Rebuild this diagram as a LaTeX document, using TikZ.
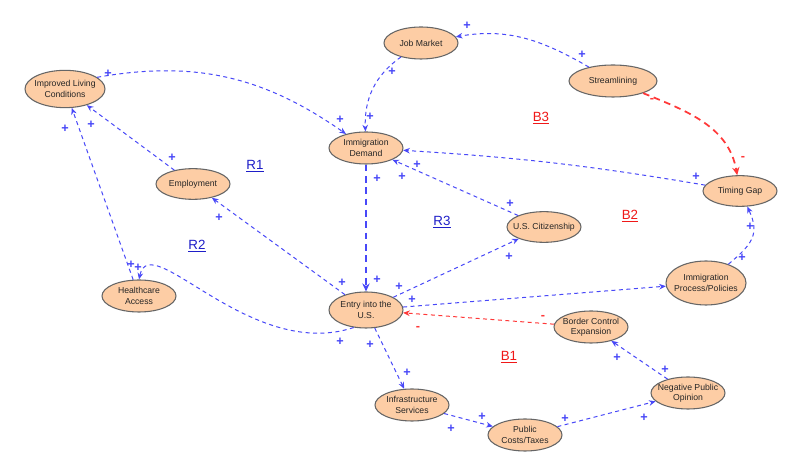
\documentclass[tikz,border=0pt]{standalone}
\usepackage{fontspec}
\setmainfont{Liberation Sans}
\usetikzlibrary{shapes.geometric,arrows.meta}
\definecolor{nodefill}{HTML}{FDCDA5}
\definecolor{nodeline}{HTML}{666666}
\definecolor{linkblue}{HTML}{4848F8}
\definecolor{linkred}{HTML}{FF3838}
\definecolor{loopblue}{HTML}{1E1EC8}
\definecolor{loopred}{HTML}{F01818}
\tikzset{
  var/.style={ellipse, draw=nodeline, line width=0.8pt, fill=nodefill, inner xsep=-6pt, inner ysep=-3pt,
    minimum width=55.5pt, minimum height=24pt, align=center, font=\fontsize{6.5}{7.7}\selectfont, text=black!85},
  poslink/.style={draw=linkblue, line width=0.75pt, dash pattern=on 3pt off 2.6pt, -{Stealth[length=5pt,width=4.2pt]}},
  neglink/.style={draw=linkred, line width=0.75pt, dash pattern=on 3pt off 2.6pt, -{Stealth[length=5pt,width=4.2pt]}},
  thickpos/.style={poslink, line width=1.5pt, dash pattern=on 5pt off 3.5pt, -{Stealth[length=6pt,width=5.5pt]}},
  thickneg/.style={neglink, line width=1.3pt, dash pattern=on 5pt off 3.5pt, -{Stealth[length=6pt,width=5.5pt]}},
  plussign/.style={text=linkblue, font=\fontsize{9.5}{9.5}\selectfont\bfseries, inner sep=0pt},
  minussign/.style={text=linkred, font=\fontsize{9.5}{9.5}\selectfont\bfseries, inner sep=0pt},
  rloop/.style={text=loopblue, font=\fontsize{10}{10}\selectfont, inner sep=0pt},
  bloop/.style={text=loopred, font=\fontsize{10}{10}\selectfont, inner sep=0pt},
}
\begin{document}
\begin{tikzpicture}[x=0.75pt,y=0.75pt]
\useasboundingbox[fill=white] (0,0) rectangle (800,467);
% nodes
\node[var, minimum width=60pt, minimum height=28pt] (ilc) at (65,378) {Improved Living\\Conditions};
\node[var] (job) at (421,424) {Job Market};
\node[var, minimum width=66pt] (str) at (613,386) {Streamlining};
\node[var] (dem) at (366,319) {Immigration\\Demand};
\node[var, minimum height=23pt] (emp) at (193,283) {Employment};
\node[var, minimum height=23pt] (tim) at (740,276) {Timing Gap};
\node[var, minimum height=23pt] (cit) at (544,240) {U.S. Citizenship};
\node[var] (hea) at (139,171) {Healthcare\\Access};
\node[var, minimum height=27pt] (ent) at (366,157) {Entry into the\\U.S.};
\node[var, minimum width=60pt, minimum height=33pt] (ipp) at (706,184) {Immigration\\Process/Policies};
\node[var] (bce) at (591,140) {Border Control\\Expansion};
\node[var] (inf) at (412,62) {Infrastructure\\Services};
\node[var] (pct) at (525,32) {Public\\Costs/Taxes};
\node[var] (npo) at (688,74) {Negative Public\\Opinion};
% loop labels
\node[rloop] (r1) at (255,301) {\underline{R1}};
\node[rloop] (r2) at (197,221) {\underline{R2}};
\node[rloop] (r3) at (442,245) {\underline{R3}};
\node[bloop] (b3) at (541,349) {\underline{B3}};
\node[bloop] (b2) at (630,251) {\underline{B2}};
\node[bloop] (b1) at (509,110) {\underline{B1}};
% links
\draw[poslink] (ilc.20) to[out=10,in=145] (dem);
\draw[poslink] (job) to[out=215,in=92] (dem);
\draw[poslink] (str) to[out=150,in=10] (job);
\draw[thickneg] (str) to[out=-22,in=100] (tim);
\draw[poslink] (tim) to[bend right=3] (dem);
\draw[poslink] (cit) -- (dem);
\draw[thickpos] (dem) -- (ent);
\draw[poslink] (emp) -- (ilc);
\draw[poslink] (hea) -- (ilc);
\draw[poslink] (ent.235) .. controls (250,105) and (150,240) .. (hea.north);
\draw[poslink] (ent) -- (emp);
\draw[poslink] (ent) -- (cit);
\draw[poslink] (ent) -- (ipp);
\draw[neglink] (bce) -- (ent);
\draw[poslink] (ent) -- (inf);
\draw[poslink] (inf) -- (pct);
\draw[poslink] (pct) -- (npo);
\draw[poslink] (npo) -- (bce);
\draw[poslink] (ipp) to[out=40,in=-65,looseness=1.3] (tim);
% polarity signs
\node[plussign] (p1) at (108,393) {+};
\node[plussign] (p2) at (340,347) {+};
\node[plussign] (p3) at (392,395) {+};
\node[plussign] (p4) at (370,350) {+};
\node[plussign] (p5) at (467,441) {+};
\node[plussign] (p6) at (582,412) {+};
\node[minussign] (m1) at (652,367) {-};
\node[minussign] (m2) at (743,309) {-};
\node[plussign] (p7) at (696,290) {+};
\node[plussign] (p8) at (417,302) {+};
\node[plussign] (p9) at (402,290) {+};
\node[plussign] (p10) at (510,263) {+};
\node[plussign] (p11) at (377,288) {+};
\node[plussign] (p12) at (377,187) {+};
\node[plussign] (p13) at (172,309) {+};
\node[plussign] (p14) at (91,342) {+};
\node[plussign] (p15) at (65,338) {+};
\node[plussign] (p16) at (131,202) {+};
\node[plussign] (p17) at (138,199) {+};
\node[plussign] (p18) at (340,125) {+};
\node[plussign] (p19) at (342,184) {+};
\node[plussign] (p20) at (219,249) {+};
\node[plussign] (p21) at (399,180) {+};
\node[plussign] (p22) at (509,210) {+};
\node[plussign] (p23) at (412,167) {+};
\node[minussign] (m3) at (543,150) {-};
\node[minussign] (m4) at (418,139) {-};
\node[plussign] (p24) at (370,122) {+};
\node[plussign] (p25) at (407,94) {+};
\node[plussign] (p26) at (451,38) {+};
\node[plussign] (p27) at (482,50) {+};
\node[plussign] (p28) at (565,48) {+};
\node[plussign] (p29) at (644,49) {+};
\node[plussign] (p30) at (665,97) {+};
\node[plussign] (p31) at (617,109) {+};
\node[plussign] (p32) at (742,209) {+};
\node[plussign] (p33) at (750,240) {+};
\end{tikzpicture}
\end{document}
